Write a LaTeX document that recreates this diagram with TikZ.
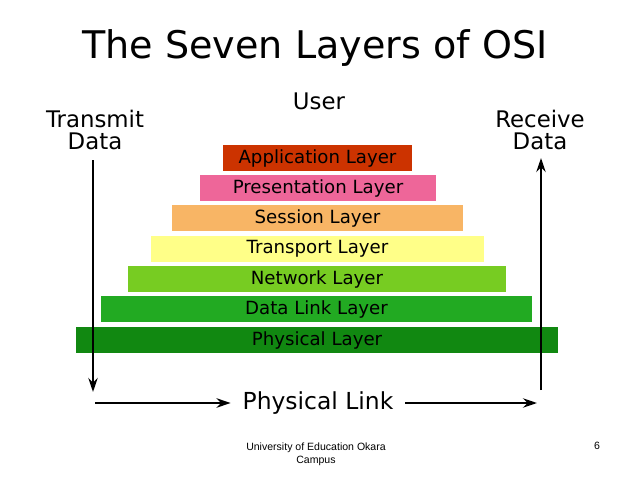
\documentclass[tikz,border=0pt]{standalone}
\usepackage{fontspec}
\setmainfont{DejaVu Sans}
\newfontfamily\arialf{Liberation Sans}
\usetikzlibrary{arrows.meta}
\definecolor{capp}{HTML}{CC3300}
\definecolor{cpre}{HTML}{EE6699}
\definecolor{cses}{HTML}{F8B565}
\definecolor{ctra}{HTML}{FFFF88}
\definecolor{cnet}{HTML}{77CC22}
\definecolor{cdat}{HTML}{22AA22}
\definecolor{cphy}{HTML}{118811}
\begin{document}
\begin{tikzpicture}[x=0.03cm,y=-0.03cm,
  layer/.style={inner sep=0pt,font=\fontsize{15.5}{16}\selectfont},
  arr/.style={line width=1.8pt,-{Stealth[length=12pt,width=8pt]}},
  big/.style={font=\fontsize{19.5}{19}\selectfont,align=center}]
\useasboundingbox (0,0) rectangle (638,479);
\node (title) at (315,48) {\fontsize{32.5}{34}\selectfont The Seven Layers of OSI};
\node (user) at (319,101) {\fontsize{19.5}{20}\selectfont User};
\node[big] (tx) at (95,130) {Transmit\\Data};
\node[big] (rx) at (540,130) {Receive\\Data};
\foreach \n/\a/\b/\y/\c/\t in {
 app/223/412/145/capp/Application Layer,
 pre/200/436/175/cpre/Presentation Layer,
 ses/172/463/205/cses/Session Layer,
 tra/151/484/236/ctra/Transport Layer,
 net/128/506/266/cnet/Network Layer,
 dat/101/532/296/cdat/Data Link Layer,
 phy/76/558/327/cphy/Physical Layer}{
 \fill[\c] (\a,\y) rectangle (\b,\y+26);
 \node[layer] (\n) at ({(\a+\b)/2},\y+13) {\t};
}
\coordinate (lt) at (93,160); \coordinate (lb) at (93,392);
\coordinate (rb) at (541,390); \coordinate (rt) at (541,158);
\draw[arr] (lt) -- (lb);
\draw[arr] (rb) -- (rt);
\node[inner xsep=10pt] (plink) at (318,403) {\fontsize{20}{20}\selectfont Physical Link};
\coordinate (b1) at (95,403); \coordinate (b2) at (537,403);
\draw[arr] (b1) -- (plink.west);
\draw[arr] (plink.east) -- (b2);
\node[align=center,font=\arialf\fontsize{9}{11}\selectfont] (foot) at (316,454) {University of Education Okara\\Campus};
\node[font=\arialf\fontsize{9}{11}\selectfont] (pg) at (597,446) {6};
\end{tikzpicture}
\end{document}
